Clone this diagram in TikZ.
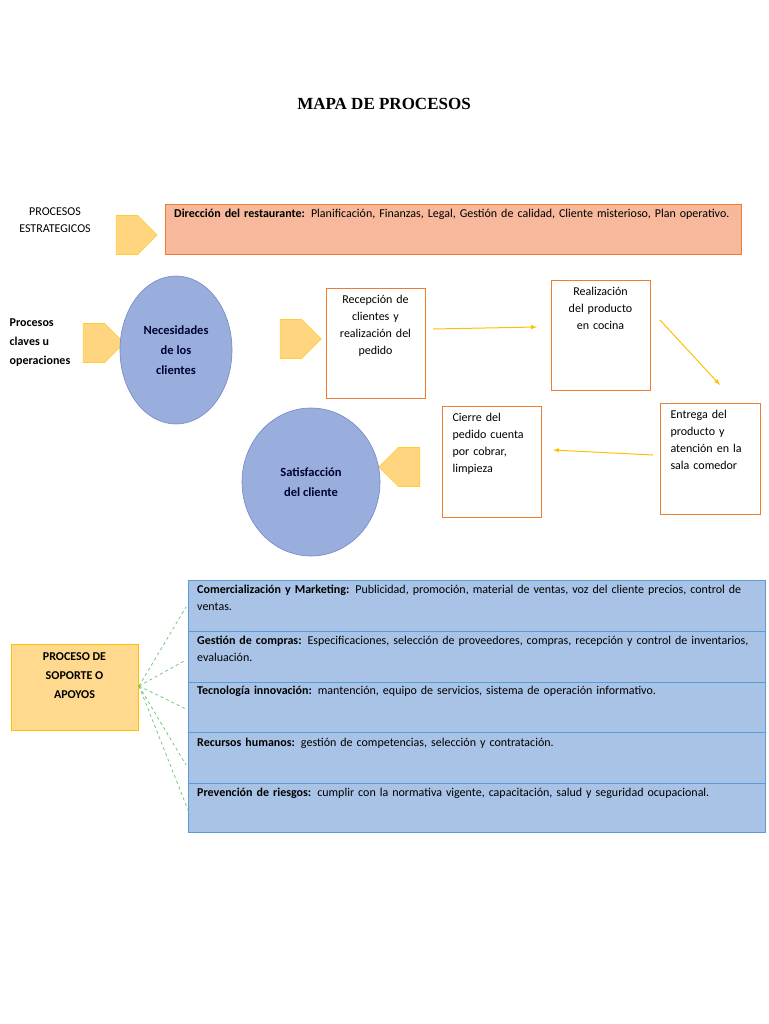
\documentclass[tikz,border=0pt]{standalone}
\usepackage{fontspec}
\setmainfont{Carlito}
\newfontfamily\titlefont{Liberation Serif}
\usetikzlibrary{shapes.geometric,shapes.arrows}
\definecolor{salmon}{HTML}{F7B89B}
\definecolor{orng}{HTML}{ED7D31}
\definecolor{gold}{HTML}{FFC000}
\definecolor{pale}{HTML}{FFD98E}
\definecolor{arrowfill}{HTML}{FFD580}
\definecolor{ellfill}{HTML}{9AAEDD}
\definecolor{ellline}{HTML}{6F88C8}
\definecolor{bluefill}{HTML}{A9C3E6}
\definecolor{blueline}{HTML}{5B9BD5}
\begin{document}
\begin{tikzpicture}[x=1pt,y=-1pt,
  txt/.style={font=\fontsize{12}{17}\selectfont},
  blk/.style={single arrow, draw=gold!80!white, fill=arrowfill, line width=0.6pt, minimum height=41pt, minimum width=39pt, single arrow head extend=0pt, single arrow tip angle=90, inner sep=0pt},
  pbox/.style={draw=orng, line width=0.6pt, fill=white, align=center, txt, anchor=north west, inner sep=4pt},
  ell/.style={ellipse, draw=ellline, fill=ellfill, line width=0.6pt, align=center, font=\fontsize{12.5}{20}\selectfont\bfseries, text=black!80!blue},
  flow/.style={draw=gold, line width=1pt, -latex},
  brow/.style={draw=blueline, fill=bluefill, line width=0.8pt},
  gdash/.style={draw=green!60!black!60!white, dashed, line width=0.7pt}]
\useasboundingbox (0,0) rectangle (768,1024);
\node[font=\titlefont\fontsize{17}{20}\selectfont\bfseries] (title) at (384,104) {MAPA DE PROCESOS};

\node[txt, align=center] (pe) at (55,220) {PROCESOS\\ESTRATEGICOS};
\node[blk] (a1) at (127,235) {};
\node[draw=orng, fill=salmon, line width=0.6pt, minimum width=576pt, minimum height=50pt, anchor=north west, inner sep=0pt] (dir) at (165,204) {};
\node[txt, anchor=north west, text width=560pt, inner sep=0pt] (dirt) at (174,209) {\textbf{Dirección del restaurante:} Planificación, Finanzas, Legal, Gestión de calidad, Cliente misterioso, Plan operativo.};

\node[txt, align=left, font=\fontsize{12}{19}\selectfont\bfseries] (pc) at (40,343) {Procesos\\claves u\\operaciones};
\node[blk] (a2) at (94,343) {};
\node[ell, minimum width=112pt, minimum height=148pt] (nec) at (176,350) {Necesidades\\de los\\clientes};
\node[blk] (a3) at (291,339) {};

\node[pbox, minimum width=99pt, minimum height=110pt, text width=91pt, anchor=north west] (rec) at (326,288) {};
\node[txt, align=center, anchor=north, text width=95pt] at (375.5,292) {Recepción de\\clientes y\\realización del\\pedido};
\node[pbox, minimum width=99pt, minimum height=110pt] (real) at (551,280) {};
\node[txt, align=center, anchor=north, text width=95pt] at (600.5,284) {Realización\\del producto\\en cocina};
\node[pbox, minimum width=100pt, minimum height=111pt] (ent) at (660,403) {};
\node[txt, align=left, anchor=north west, text width=92pt] at (667,407) {Entrega del\\producto y\\atención en la\\sala comedor};
\node[pbox, minimum width=99pt, minimum height=111pt] (cie) at (442,406) {};
\node[txt, align=left, anchor=north west, text width=92pt] at (449,410) {Cierre del\\pedido cuenta\\por cobrar,\\limpieza};
\node[blk, shape border rotate=180] (a4) at (409,467) {};
\node[ell, minimum width=138pt, minimum height=148pt] (sat) at (311,482) {Satisfacción\\del cliente};

\coordinate (r1) at (433,329); \coordinate (r2) at (537,327);
\draw[flow] (r1) -- (r2);
\coordinate (s1) at (660,320); \coordinate (s2) at (720,385);
\draw[flow] (s1) -- (s2);
\coordinate (t1) at (653,455); \coordinate (t2) at (553,450);
\draw[flow] (t1) -- (t2);

\node[draw=gold, fill=pale, line width=0.8pt, minimum width=127pt, minimum height=86pt, anchor=north west, inner sep=0pt] (sop) at (11,644) {};
\node[align=center, font=\fontsize{12}{19}\selectfont\bfseries] (sopt) at (74.5,676) {PROCESO DE\\SOPORTE O\\APOYOS};

\foreach \y/\h [count=\i] in {580/51,631/51,682/50,732/51,783/49} {
  \node[brow, minimum width=577pt, minimum height=\h pt, anchor=north west, inner sep=0pt] (b\i) at (188,\y) {};
}
\node[txt, anchor=north west, text width=565pt, inner sep=0pt] at (197,585) {\textbf{Comercialización y Marketing:} Publicidad, promoción, material de ventas, voz del cliente precios, control de ventas.};
\node[txt, anchor=north west, text width=565pt, inner sep=0pt] at (197,636) {\textbf{Gestión de compras:} Especificaciones, selección de proveedores, compras, recepción y control de inventarios, evaluación.};
\node[txt, anchor=north west, text width=565pt, inner sep=0pt] at (197,686) {\textbf{Tecnología innovación:} mantención, equipo de servicios, sistema de operación informativo.};
\node[txt, anchor=north west, text width=565pt, inner sep=0pt] at (197,738) {\textbf{Recursos humanos:} gestión de competencias, selección y contratación.};
\node[txt, anchor=north west, text width=565pt, inner sep=0pt] at (197,788) {\textbf{Prevención de riesgos:} cumplir con la normativa vigente, capacitación, salud y seguridad ocupacional.};

\coordinate (o) at (139,686);
\coordinate (e1) at (186,607); \coordinate (e2) at (186,660); \coordinate (e3) at (186,709);
\coordinate (e4) at (186,765); \coordinate (e5) at (190,815);
\foreach \e in {e1,e2,e3,e4,e5} \draw[gdash] (o) -- (\e);
\end{tikzpicture}
\end{document}
